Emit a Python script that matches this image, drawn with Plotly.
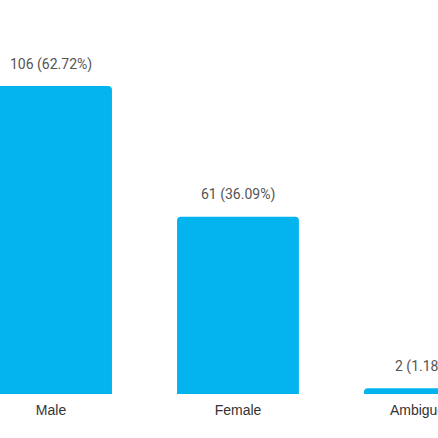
import plotly.graph_objects as go

categories = ["Male", "Female", "Ambiguous"]
counts = [106, 61, 2]
percents = ["62.72%", "36.09%", "1.18%"]

bar_color = "#03B4EE"

fig = go.Figure()
fig.add_trace(go.Bar(
    x=categories,
    y=counts,
    marker=dict(color=bar_color, line=dict(width=0)),
    hoverinfo="skip",
))

for c, v, p in zip(categories, counts, percents):
    fig.add_annotation(
        x=c, y=v, text=f"{v} ({p})", showarrow=False,
        yshift=22, xanchor="center", yanchor="middle",
        font=dict(family="Roboto", size=14, color="#555555"),
    )

fig.update_layout(
    width=438, height=438,
    margin=dict(l=0, r=0, t=0, b=44),
    paper_bgcolor="white", plot_bgcolor="white",
    bargap=0.348,
    barcornerradius=4,
    showlegend=False,
    xaxis=dict(
        type="category",
        range=[-0.273, 2.07],
        showgrid=False, zeroline=False, showline=False, ticks="",
        tickfont=dict(family="Liberation Sans", size=14, color="#333333"),
        ticklabelstandoff=6,
        automargin=False,
    ),
    yaxis=dict(
        range=[0, 135.6],
        visible=False,
        showgrid=False, zeroline=False,
    ),
)

fig.write_html(
    "out.html",
    config={"displayModeBar": False},
    post_script="document.body.style.margin='0';document.body.style.overflow='hidden';",
)
